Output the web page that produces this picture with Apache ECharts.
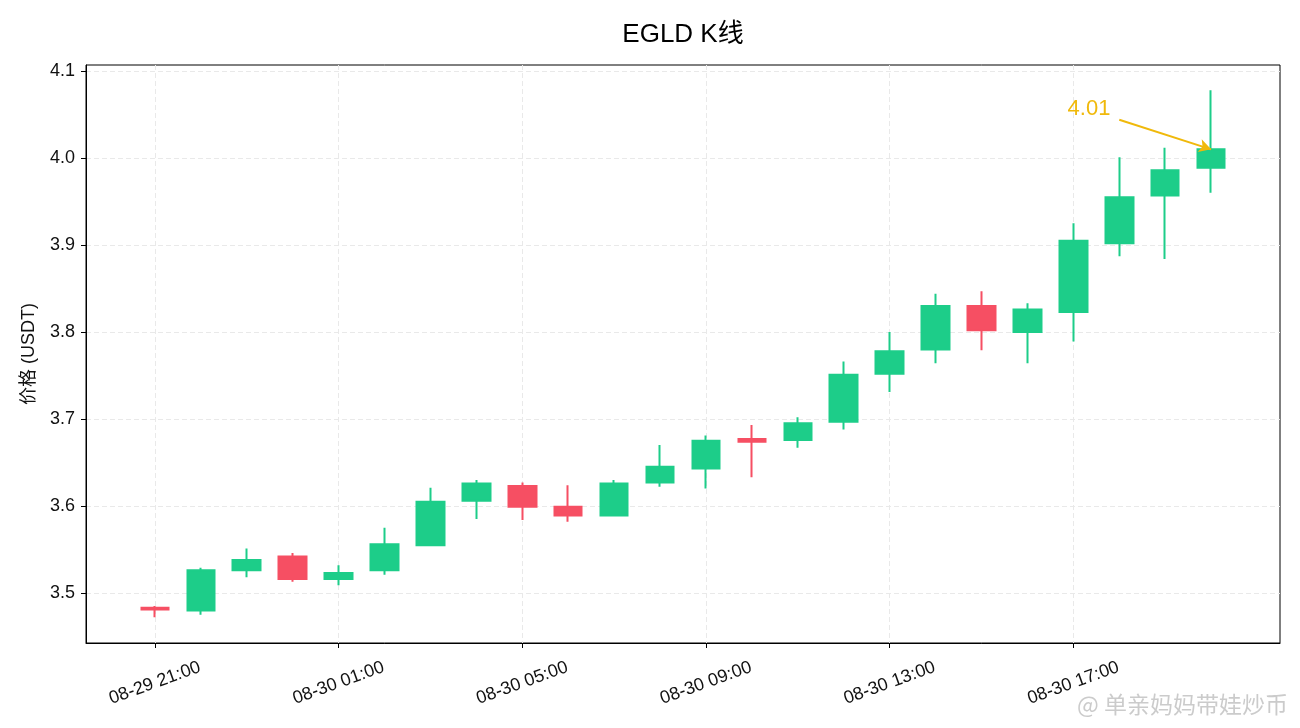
<!DOCTYPE html>
<html>
<head>
<meta charset="utf-8">
<script src="https://cdn.jsdelivr.net/npm/echarts@6/dist/echarts.min.js"></script>
<style>
html,body{margin:0;padding:0;background:#fff;}
#chart{width:1300px;height:728px;}
</style>
</head>
<body>
<div id="chart"></div>
<script>
// ---- data ----
const times = ['08-29 21:00','08-29 22:00','08-29 23:00','08-30 00:00','08-30 01:00','08-30 02:00',
  '08-30 03:00','08-30 04:00','08-30 05:00','08-30 06:00','08-30 07:00','08-30 08:00',
  '08-30 09:00','08-30 10:00','08-30 11:00','08-30 12:00','08-30 13:00','08-30 14:00',
  '08-30 15:00','08-30 16:00','08-30 17:00','08-30 18:00','08-30 19:00','08-30 20:00'];
const openP  = [3.483,3.480,3.526,3.542,3.516,3.526,3.555,3.606,3.623,3.599,3.589,3.627,3.643,3.677,3.676,3.697,3.752,3.780,3.830,3.800,3.823,3.902,3.957,3.989];
const closeP = [3.481,3.526,3.538,3.516,3.523,3.556,3.605,3.626,3.599,3.589,3.626,3.645,3.675,3.674,3.695,3.751,3.778,3.830,3.802,3.826,3.905,3.955,3.986,4.010];
const lowP   = [3.472,3.475,3.518,3.513,3.509,3.521,3.554,3.585,3.584,3.582,3.588,3.622,3.620,3.633,3.667,3.688,3.731,3.764,3.779,3.764,3.789,3.887,3.884,3.960];
const highP  = [3.485,3.529,3.551,3.546,3.532,3.575,3.621,3.630,3.627,3.624,3.630,3.670,3.681,3.693,3.702,3.766,3.800,3.844,3.847,3.833,3.925,4.001,4.012,4.078];
const xTickIdx = [0,4,8,12,16,20];
const yTicks = [3.5,3.6,3.7,3.8,3.9,4.0,4.1];
const annotText = '4.01';
const annotTextAt = [20.34, 4.056];
const annotArrowFrom = [21.0, 4.044];

// ---- chart ----
const FONT = '"Liberation Sans", "Noto Sans CJK SC", sans-serif';
const last = closeP.length - 1;
const source = times.map((t, i) => [i, openP[i], closeP[i], lowP[i], highP[i]]);
const chart = echarts.init(document.getElementById('chart'), null, {renderer: 'canvas'});
const splitStyle = {color: '#e9e9e9', width: 1, type: [5, 3]};
chart.setOption({
  animation: false,
  backgroundColor: '#fff',
  title: {
    text: 'EGLD K线', left: 678, top: 17, textAlign: 'center',
    textStyle: {fontFamily: FONT, fontSize: 26, fontWeight: 'normal', color: '#000'}
  },
  grid: {left: 86, right: 20, top: 65, bottom: 85, show: true, borderColor: '#000', borderWidth: 1},
  dataset: {source: source},
  xAxis: {
    type: 'value', min: -1.5, max: 24.5,
    axisLine: {show: true, onZero: false, lineStyle: {color: '#000', width: 1}},
    axisTick: {show: true, length: 5, lineStyle: {color: '#000'}, customValues: xTickIdx},
    axisLabel: {
      customValues: xTickIdx, rotate: 20, align: 'center', verticalAlign: 'middle', margin: 40,
      fontFamily: FONT, fontSize: 18, color: '#111',
      formatter: v => times[Math.round(v)] || ''
    },
    splitLine: {show: true, lineStyle: splitStyle}
  },
  yAxis: {
    type: 'value', min: 3.4425, max: 4.107,
    name: '价格 (USDT)', nameLocation: 'middle', nameGap: 48,
    nameTextStyle: {fontFamily: FONT, fontSize: 18, color: '#111'},
    axisLine: {show: true, onZero: false, lineStyle: {color: '#000', width: 1}},
    axisTick: {show: true, length: 5, lineStyle: {color: '#000'}, customValues: yTicks},
    axisLabel: {
      customValues: yTicks, margin: 11, fontFamily: FONT, fontSize: 18, color: '#111',
      formatter: v => v.toFixed(1)
    },
    splitLine: {show: true, lineStyle: splitStyle}
  },
  series: [{
    type: 'candlestick',
    encode: {x: 0, y: [1, 2, 3, 4]},
    barWidth: 28,
    itemStyle: {
      color: '#1dcd89', color0: '#f64f63',
      borderColor: '#1dcd89', borderColor0: '#f64f63', borderWidth: 2
    },
    markLine: {
      silent: true,
      symbol: ['none', 'arrow'],
      symbolSize: [10, 12],
      label: {show: false},
      lineStyle: {color: '#f0b90b', width: 2, type: 'solid'},
      data: [[{coord: annotArrowFrom}, {coord: [last, closeP[last]]}]]
    },
    markPoint: {
      silent: true,
      symbol: 'circle', symbolSize: 0,
      label: {show: true, position: 'inside', formatter: annotText,
        fontFamily: FONT, fontSize: 22, color: '#f0b90b'},
      data: [{coord: annotTextAt}]
    }
  }],
  graphic: [{
    type: 'text', right: 12, bottom: 12,
    style: {text: '@ 单亲妈妈带娃炒币', fill: 'rgba(160,160,160,0.55)', fontSize: 23,
      fontFamily: '"Noto Sans CJK SC", sans-serif'}
  }]
});
</script>
</body>
</html>
